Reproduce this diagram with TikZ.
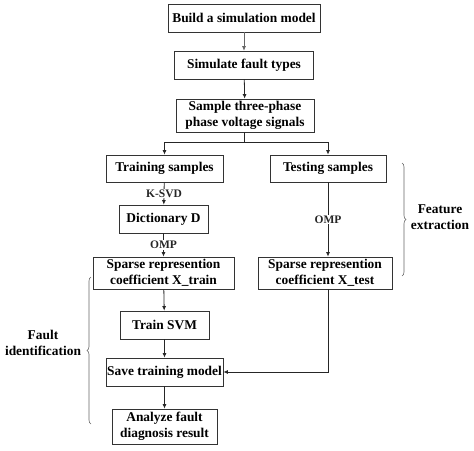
\documentclass[tikz,border=0pt]{standalone}
\usepackage{fontspec}
\setmainfont{Liberation Serif}
\usetikzlibrary{arrows.meta,decorations.pathreplacing}
\begin{document}
\begin{tikzpicture}[x=1pt,y=-1pt,
  box/.style={draw=black!80,line width=0.7pt,align=center,inner sep=1pt,
    font=\fontsize{13.4}{15.5}\selectfont\bfseries},
  lbl/.style={align=center,inner sep=1pt,font=\fontsize{13.4}{15.5}\selectfont\bfseries},
  elbl/.style={fill=white,inner sep=1pt,font=\fontsize{11.5}{12}\selectfont\bfseries},
  arr/.style={-{Latex[length=4.5pt,width=4pt]},line width=0.8pt,black!85},
  brc/.style={decorate,decoration={brace,amplitude=4pt},line width=0.6pt,black!60}]
\useasboundingbox (0,0) rectangle (474,450);
\node[box,minimum width=152pt,minimum height=28pt] (b1) at (244,18) {Build a simulation model};
\node[box,minimum width=139pt,minimum height=28pt] (b2) at (244,65) {Simulate fault types};
\node[box,minimum width=138pt,minimum height=33pt] (b3) at (245,115.5) {Sample three-phase\\phase voltage signals};
\node[box,minimum width=117pt,minimum height=27pt] (tr) at (164.5,168.5) {Training samples};
\node[box,minimum width=116pt,minimum height=27pt] (te) at (328,168.5) {Testing samples};
\node[box,minimum width=89pt,minimum height=28pt] (dd) at (163.5,219) {Dictionary D};
\node[box,minimum width=141pt,minimum height=32pt] (sl) at (163.5,273) {Sparse represention\\coefficient X\_train};
\node[box,minimum width=134pt,minimum height=32pt] (sr) at (325,273) {Sparse represention\\coefficient X\_test};
\node[box,minimum width=89pt,minimum height=28pt] (sv) at (164.5,325) {Train SVM};
\node[box,minimum width=117pt,minimum height=28pt] (sm) at (164.5,372) {Save training model};
\node[box,minimum width=105pt,minimum height=35pt] (an) at (164.5,426.5) {Analyze fault\\diagnosis result};
\coordinate (j) at (244,142);
\draw[arr,line width=0.6pt,black!60] (b1) -- (b2);
\draw[arr] (b2) -- (b3);
\draw[line width=0.8pt,black!85] (b3.south -| j) -- (j);
\draw[arr] (j) -| (tr.north);
\draw[arr] (j) -| (te.north);
\draw[arr] (tr) -- node[elbl]{K-SVD} (dd);
\draw[arr] (dd) -- node[elbl]{OMP} (sl);
\draw[arr] (te.south) -- node[elbl]{OMP} (sr.north -| te.south);
\draw[arr] (sl) -- (sv);
\draw[arr] (sv) -- (sm);
\draw[arr] (sm) -- (an);
\coordinate (k) at (328,372);
\draw[arr] (sr.south -| k) -- (k) -- (sm.east);
\coordinate (rb1) at (402,163);
\coordinate (rb2) at (402,276);
\draw[brc] (rb1) -- (rb2);
\node[lbl] (fe) at (440,217) {Feature\\extraction};
\coordinate (lb1) at (91,424);
\coordinate (lb2) at (91,277);
\draw[brc] (lb1) -- (lb2);
\node[lbl] (fi) at (43,343) {Fault\\identification};
\end{tikzpicture}
\end{document}
